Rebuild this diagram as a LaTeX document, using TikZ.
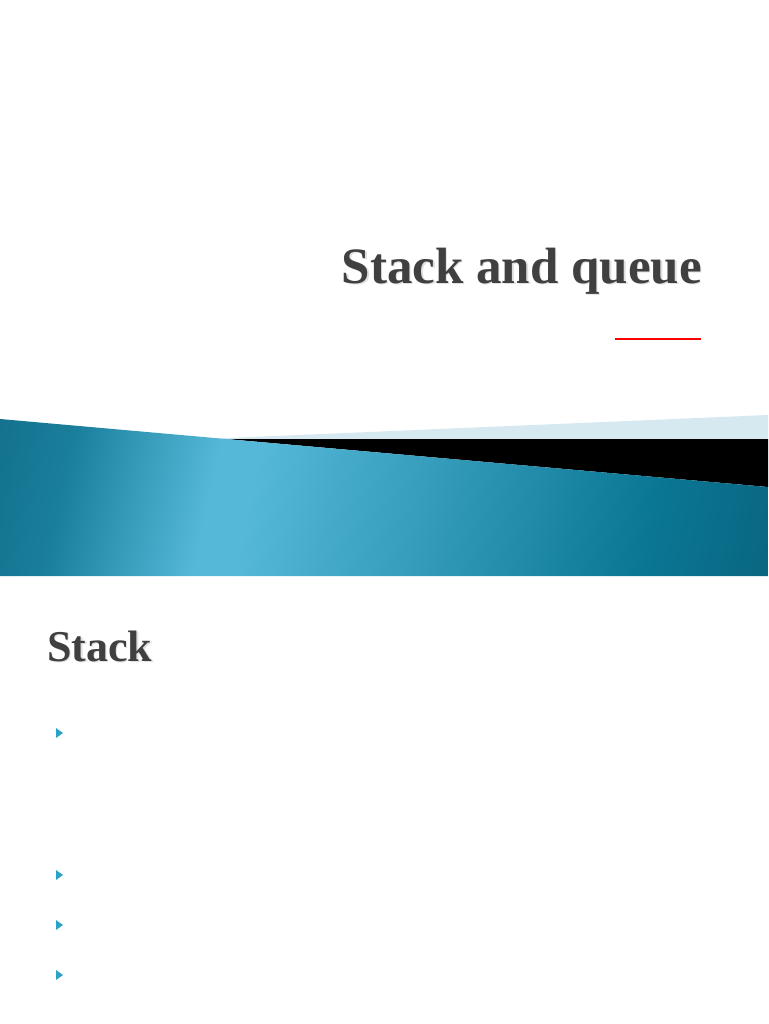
\documentclass[tikz,border=0pt]{standalone}
\usepackage{fontspec}
\setmainfont{Liberation Serif}
\definecolor{tealdark}{HTML}{0A5F7A}
\definecolor{tealmid}{HTML}{1A7F9C}
\definecolor{teallight}{HTML}{55B8D8}
\definecolor{tealright}{HTML}{0A7794}
\definecolor{paleblue}{HTML}{D6E8F0}
\definecolor{titlegray}{HTML}{404040}
\definecolor{bulletblue}{HTML}{2AA3C4}
\pgfdeclarehorizontalshading{band}{100bp}{color(0bp)=(tealdark); color(12bp)=(tealdark); color(26bp)=(tealmid); color(37bp)=(teallight); color(40bp)=(teallight); color(54bp)=(teallight!55!tealright); color(70bp)=(tealright); color(84bp)=(tealdark); color(100bp)=(tealdark)}
\begin{document}
\begin{tikzpicture}[x=1pt,y=-1pt,
  titletext/.style={font=\bfseries\fontsize{51}{54}\selectfont, text=titlegray, inner sep=0pt, anchor=base east},
  headtext/.style={font=\bfseries\fontsize{44}{48}\selectfont, text=titlegray, inner sep=0pt, anchor=base west},
  shadowtext/.style={text=black!12},
  bullet/.style={fill=bulletblue, draw=none}]
\useasboundingbox (0,0) rectangle (768,1024);
\fill[white] (0,0) rectangle (768,1024);
% band
\fill[paleblue] (205,439) -- (768,415) -- (768,439) -- cycle;
\fill[black] (226,439) -- (768,439) -- (768,487) -- cycle;
\shade[shading=band, shading angle=-12] (0,419) -- (768,487) -- (768,576) -- (0,576) -- cycle;
% title
\node[titletext, shadowtext] (titleshadow) at (703.5,284.5) {Stack and queue};
\node[titletext] (title) at (702,283) {Stack and queue};
\draw[red, line width=2pt] (615,339) -- (701,339);
% heading
\node[headtext, shadowtext] (headshadow) at (48.5,662.5) {Stack};
\node[headtext] (head) at (47,661) {Stack};
% bullets
\foreach \yy in {733,875,925,975}{
  \fill[bullet] (56,\yy-5) -- (63,\yy) -- (56,\yy+5) -- cycle;
}
\end{tikzpicture}
\end{document}
